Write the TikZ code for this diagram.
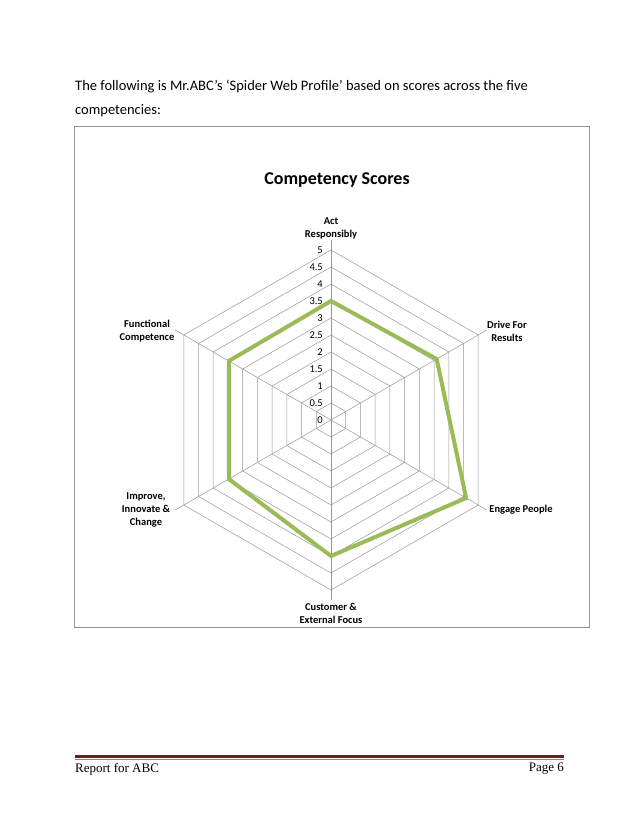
\documentclass[tikz,border=0pt]{standalone}
\usepackage{fontspec}
\usetikzlibrary{calc}
\setmainfont{Carlito}
\newfontfamily\footfont{Liberation Serif}
\definecolor{gridc}{RGB}{150,150,150}
\definecolor{seriesc}{RGB}{155,187,89}
\definecolor{footred}{RGB}{110,30,30}
\begin{document}
\begin{tikzpicture}[x=1pt,y=-1pt,
  lbl/.style={font=\fontsize{10.5}{13}\selectfont\bfseries,align=center},
  tick/.style={font=\fontsize{10.5}{12}\selectfont,anchor=east,inner sep=1pt},
  gridl/.style={draw=gridc,line width=0.5pt}]
\useasboundingbox (0,0) rectangle (638,826);
\node[anchor=west,font=\fontsize{14.5}{24}\selectfont,align=left,inner sep=0] (hdr) at (75,98) {The following is Mr.ABC’s ‘Spider Web Profile’ based on scores across the five\\competencies:};
\node[draw=gridc,line width=0.6pt,minimum width=515,minimum height=501,inner sep=0] (frame) at (331.5,376.5) {};
\node[font=\fontsize{18}{21}\selectfont\bfseries] (title) at (337,180) {Competency Scores};
\coordinate (O) at (331,420);
\foreach \k in {1,...,10}{
  \draw[gridl] ($(O)+(-90:17*\k)$) \foreach \a in {-30,30,90,150,-150} { -- ($(O)+(\a:17*\k)$)} -- cycle;
}
\foreach \a in {-90,-30,30,90,150,-150}{ \draw[gridl] (O) -- ($(O)+(\a:180)$); }
\foreach \v [count=\i from 0] in {0,0.5,1,1.5,2,2.5,3,3.5,4,4.5,5}{
  \node[tick] (t\i) at (324,{420-17*\i}) {\v};
}
\draw[seriesc,line width=4pt,line join=miter]
  ($(O)+(-90:119)$) -- ($(O)+(-30:122)$) -- ($(O)+(30:156)$) -- ($(O)+(90:136)$) -- ($(O)+(150:118)$) -- ($(O)+(-150:118)$) -- cycle;
\node[lbl] (l1) at (331,228) {Act\\Responsibly};
\node[lbl] (l2) at (507,331) {Drive For\\Results};
\node[lbl] (l3) at (521,510) {Engage People};
\node[lbl] (l4) at (331,613) {Customer \&\\External Focus};
\node[lbl] (l5) at (146,510) {Improve,\\Innovate \&\\Change};
\node[lbl] (l6) at (147,331) {Functional\\Competence};
\draw[footred,line width=2.5pt] (75,756.5) -- (564,756.5);
\draw[footred!60,line width=0.7pt] (75,759.5) -- (564,759.5);
\node[anchor=west,font=\footfont\fontsize{13}{15}\selectfont,inner sep=0] (fl) at (75,769) {Report for ABC};
\node[anchor=east,font=\footfont\fontsize{13}{15}\selectfont,inner sep=0] (fr) at (564,769) {Page 6};
\end{tikzpicture}
\end{document}
